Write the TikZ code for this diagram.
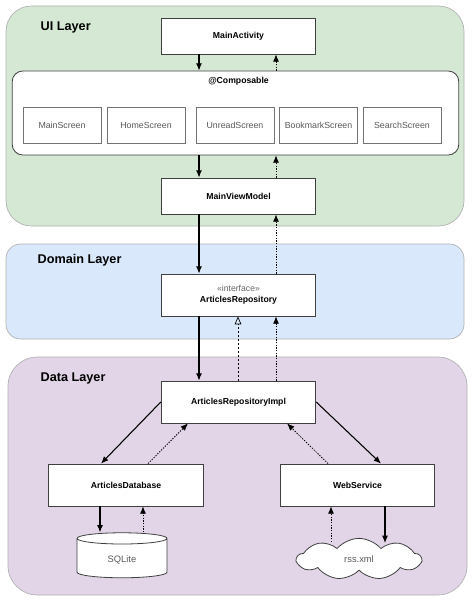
\documentclass[tikz,border=0pt]{standalone}
\usepackage{fontspec}
\setmainfont{Liberation Sans}
\usetikzlibrary{arrows.meta,calc,shapes.geometric,shapes.symbols}
\definecolor{uigreen}{HTML}{D5E8D4}
\definecolor{domainblue}{HTML}{DAE8FC}
\definecolor{datapurple}{HTML}{E1D5E7}
\definecolor{panelline}{HTML}{B0B0B0}

\begin{document}
\begin{tikzpicture}[x=0.75pt, y=-0.75pt, >={Latex[length=5.5pt,width=4.5pt]},
    layer/.style={draw=panelline, line width=0.5pt},
    title/.style={anchor=west, font=\fontsize{9.5}{11}\selectfont\bfseries},
    box/.style={draw=black!75, fill=white, line width=0.6pt, minimum width=116pt,
        minimum height=31.5pt, inner sep=1pt, font=\fontsize{6.5}{8}\selectfont\bfseries},
    screen/.style={draw=black!55, fill=white, line width=0.5pt, minimum width=58.5pt,
        minimum height=27pt, inner sep=1pt, text=black!65, font=\fontsize{6.6}{8}\selectfont},
    store/.style={draw=black!75, fill=white, line width=0.6pt, text=black!65,
        font=\fontsize{7}{8}\selectfont},
    flow/.style={->, line width=0.8pt},
    back/.style={->, line width=0.6pt, dash pattern=on 1pt off 1pt},
    realize/.style={-{Triangle[open,length=6pt,width=5pt]}, line width=0.5pt,
        dash pattern=on 1.5pt off 1.5pt}]
    \useasboundingbox (0,0) rectangle (474,602);

    % Layers
    \draw[layer, fill=uigreen, rounded corners=19pt] (6,6) rectangle (464,226);
    \draw[layer, fill=domainblue, rounded corners=11pt] (6,244) rectangle (464,339);
    \draw[layer, fill=datapurple, rounded corners=22pt] (8,357) rectangle (467,595);
    \node[title] (uititle) at (36,27) {UI Layer};
    \node[title] (domaintitle) at (33,260) {Domain Layer};
    \node[title] (datatitle) at (36,378) {Data Layer};

    % UI layer
    \node[box, minimum height=27pt] (act) at (238.5,36) {MainActivity};
    \node[draw=black!75, fill=white, line width=0.6pt, rounded corners=8pt,
        minimum width=335pt, minimum height=63pt] (comp) at (235.5,113) {};
    \node[font=\fontsize{6.5}{8}\selectfont\bfseries] (comptitle) at (238.5,81) {@Composable};
    \foreach \name/\x/\txt in {main/62/MainScreen, home/146/HomeScreen,
        unread/235/UnreadScreen, bookmark/318.5/BookmarkScreen, search/402/SearchScreen}
        \node[screen] (\name) at (\x,125) {\txt};
    \node[box, minimum height=27pt] (mvm) at (238.5,196) {MainViewModel};

    % Domain layer
    \node[box, align=center] (repo) at (238.5,295)
        {{\mdseries\color{black!60}«interface»}\\ArticlesRepository};

    % Data layer
    \node[box] (repoimpl) at (238.5,402) {ArticlesRepositoryImpl};
    \node[box] (db) at (126,485) {ArticlesDatabase};
    \node[box] (ws) at (357.5,485) {WebService};
    \node[store, cylinder, shape border rotate=90, aspect=0.3, minimum width=67.5pt,
        minimum height=33.75pt, text depth=-4pt] (sqlite) at (122,559.5) {SQLite};
    \node[store, cloud, cloud puffs=9, cloud puff arc=100, cloud ignores aspect,
        minimum width=93pt, minimum height=31pt] (rss) at (359,559) {rss.xml};

    % Columns of the vertical arrows
    \coordinate (colL) at (199,0);
    \coordinate (colM) at (238,0);
    \coordinate (colR) at (276,0);
    \coordinate (sqlDown) at (100,0);
    \coordinate (sqlUp) at (143,0);
    \coordinate (rssIn) at (385,543);
    \coordinate (rssOut) at (331,542);

    % Calls down, results up
    \draw[flow] (act.south -| colL) -- (comp.north -| colL);
    \draw[back] (comp.north -| colR) -- (act.south -| colR);
    \draw[flow] (comp.south -| colL) -- (mvm.north -| colL);
    \draw[back] (mvm.north -| colR) -- (comp.south -| colR);
    \draw[flow] (mvm.south -| colL) -- (repo.north -| colL);
    \draw[back] (repo.north -| colR) -- (mvm.south -| colR);
    \draw[flow] (repo.south -| colL) -- (repoimpl.north -| colL);
    \draw[realize] (repoimpl.north -| colM) -- (repo.south -| colM);
    \draw[back] (repoimpl.north -| colR) -- (repo.south -| colR);

    \draw[flow] (repoimpl.west) -- ($(db.north)+(-25,0)$);
    \draw[back] ($(db.north)+(22,0)$) -- ($(repoimpl.south)+(-50.5,0)$);
    \draw[flow] (repoimpl.east) -- ($(ws.north)+(23.5,0)$);
    \draw[back] ($(ws.north)+(-29.5,0)$) -- ($(repoimpl.south)+(48.5,0)$);

    \draw[flow] (db.south -| sqlDown) -- (sqlite.north -| sqlDown);
    \draw[back] (sqlite.north -| sqlUp) -- (db.south -| sqlUp);
    \draw[flow] (ws.south -| rssIn) -- (rssIn);
    \draw[back] (rssOut) -- (ws.south -| rssOut);
\end{tikzpicture}
\end{document}
